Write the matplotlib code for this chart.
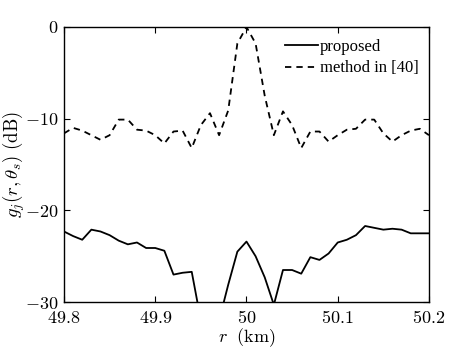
import matplotlib
matplotlib.use('Agg')

import matplotlib.pyplot as plt
import numpy as np

r_km = np.round(np.arange(49.80, 50.2001, 0.01), 2)

# proposed (solid)
proposed = [-22.3, -22.8, -23.2, -22.1, -22.3, -22.7, -23.3, -23.7, -23.5, -24.1,
            -24.1, -24.4, -27.0, -26.8, -26.7, -32.0, -35.0, -32.0, -28.1, -24.5,
            -23.4, -25.0, -27.3, -30.3, -26.5, -26.5, -26.9, -25.1, -25.4, -24.7,
            -23.5, -23.2, -22.7, -21.7, -21.9, -22.1, -22.0, -22.1, -22.5, -22.5,
            -22.5]

# method in [40] (dashed)
method40 = [-11.6, -11.0, -11.3, -11.8, -12.3, -11.8, -10.1, -10.1, -11.2, -11.3,
            -11.8, -12.7, -11.4, -11.3, -13.2, -10.7, -9.4, -11.8, -9.1, -1.8,
            0.0, -1.8, -7.5, -11.8, -9.2, -10.7, -13.2, -11.4, -11.4, -12.5,
            -11.8, -11.2, -11.1, -10.1, -10.1, -11.6, -12.5, -11.8, -11.3, -11.1,
            -11.8]

xticks = [49.8, 49.9, 50.0, 50.1, 50.2]
xtick_labels = ['49.8', '49.9', '50', '50.1', '50.2']
yticks = [-30, -20, -10, 0]
ytick_labels = ['-30', '-20', '-10', '0']

plt.rcParams['mathtext.fontset'] = 'cm'
plt.rcParams['font.family'] = 'Liberation Serif'

fig = plt.figure(figsize=(4.74, 3.55), dpi=100)
ax = fig.add_axes([0.135, 0.149, 0.770, 0.775])

ax.plot(r_km, proposed, color='black', lw=1.3, label='proposed')
ax.plot(r_km, method40, color='black', lw=1.3, dashes=(3.5, 2.8), label='method in [40]')

ax.set_xlim(49.8, 50.2)
ax.set_ylim(-30, 0)
ax.set_xticks(xticks)
ax.set_xticklabels(['$' + t + '$' for t in xtick_labels], fontsize=13)
ax.set_yticks(yticks)
ax.set_yticklabels(['$' + t + '$' for t in ytick_labels], fontsize=13)
ax.tick_params(direction='in', top=True, right=True, length=4, width=0.8)
ax.tick_params(axis='x', pad=6)
ax.tick_params(axis='y', pad=4)
for s in ax.spines.values():
    s.set_linewidth(1.0)

ax.set_xlabel(r'$r\ \ \mathrm{(km)}$', fontsize=13, labelpad=-1)
ax.set_ylabel(r'$g_j(r,\theta_s)\ (\mathrm{dB})$', fontsize=13.5)
ax.yaxis.set_label_coords(-0.102, 0.5)

ax.legend(loc='upper right', frameon=False, fontsize=12, handlelength=2.0,
          handletextpad=0.1, labelspacing=0.35, borderaxespad=0.3,
          bbox_to_anchor=(1.003, 1.0))

fig.savefig('out.png', dpi=100)
